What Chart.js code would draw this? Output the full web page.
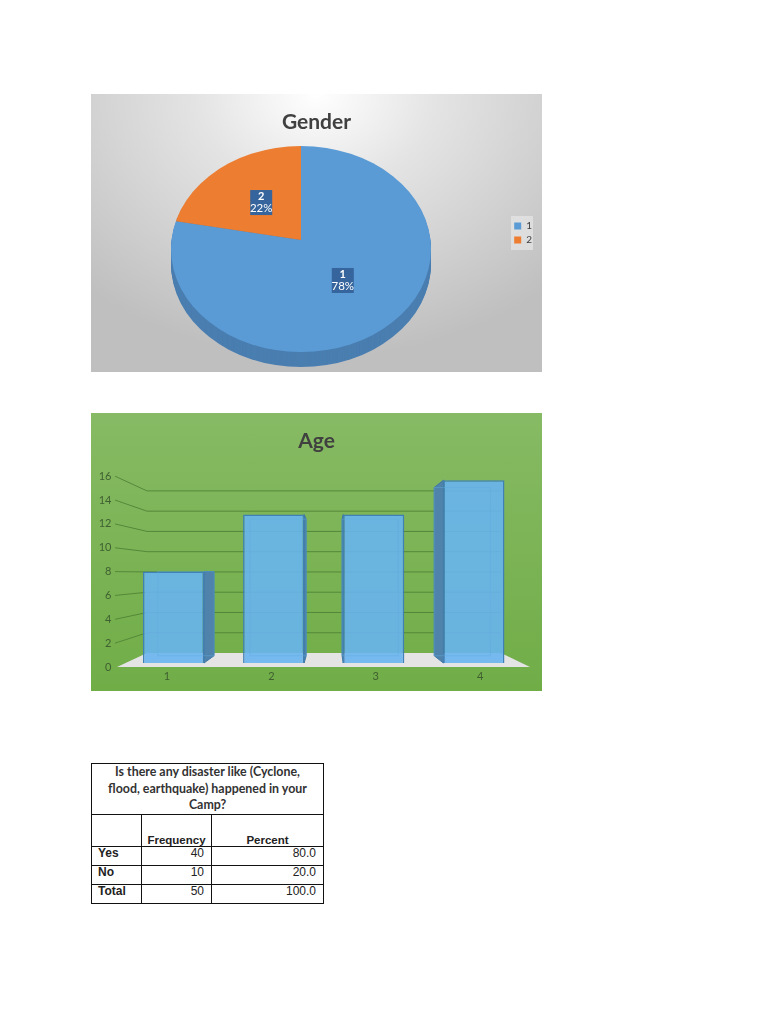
<!DOCTYPE html>
<html lang="en">
<head>
<meta charset="UTF-8">
<title>Gender, Age and Disaster</title>
<script src="https://cdn.jsdelivr.net/npm/chart.js@4"></script>
<style>
  * { margin: 0; padding: 0; box-sizing: border-box; }
  html, body { width: 768px; height: 1024px; background: #fff; overflow: hidden; }
  .panel { position: absolute; left: 91px; width: 451px; height: 278px; }
  .panel canvas { display: block; }
  #genderPanel { top: 94px; background: radial-gradient(ellipse 75% 95% at 50% 0%, #ffffff 0%, #e4e4e4 35%, #bfbfbf 100%); }
  #agePanel { top: 413px; background: linear-gradient(#87ba64, #70ad47); }
  #disaster { position: absolute; left: 91px; top: 763px; width: 232px; height: 140px; border-collapse: collapse; table-layout: fixed; font: 12px/12px "Liberation Sans", sans-serif; color: #222; }
  #disaster td, #disaster th { border: 1px solid #111; padding: 0 7px 0 6px; }
  #disaster .caption { font: bold 12.4px/16.5px Lato, sans-serif; text-align: center; color: #333; padding: 0 6px; height: 49px; }
  #disaster .head { vertical-align: bottom; text-align: center; font-size: 11.5px; font-weight: bold; height: 32px; padding: 0 3px; }
  #disaster .name { text-align: left; font-weight: bold; height: 19px; vertical-align: top; padding-top: 0; }
  #disaster .num { text-align: right; font-weight: normal; height: 19px; vertical-align: top; padding-top: 0; }
</style>
</head>
<body>
<div class="panel" id="genderPanel"><canvas id="genderChart" width="451" height="278"></canvas></div>
<div class="panel" id="agePanel"><canvas id="ageChart" width="451" height="278"></canvas></div>
<table id="disaster"></table>

<script>
const genderLabels = ['1', '2'];
const genderValues = [78, 22];
const genderColors = ['#5b9bd5', '#ed7d31'];

const ageLabels = ['1', '2', '3', '4'];
const ageValues = [8, 13, 13, 16];

const tableTitle = 'Is there any disaster like (Cyclone, flood, earthquake) happened in your Camp?';
const tableHeaders = ['', 'Frequency', 'Percent'];
const tableRows = ['Yes', 'No', 'Total'];
const tableFrequency = [40, 10, 50];
const tablePercent = ['80.0', '20.0', '100.0'];

const titleFont = { family: 'Lato', size: 21, weight: 'bold' };

// Fake tilted 3D pie: squash the library's arcs and clip them to the top face
const PIE = { tipX: 210, tipY: 146, cx: 210, cy: 155, rx: 130, ry: 103, depth: 15, squash: 0.79, labelR: 64 };

const tiltedPie = {
  id: 'tiltedPie',
  beforeDraw(chart) {
    // light box behind the legend entries only
    const ctx = chart.ctx;
    const boxes = chart.legend.legendHitBoxes;
    const top = boxes[0].top - 5;
    const bottom = boxes[boxes.length - 1].top + boxes[boxes.length - 1].height + 5;
    ctx.save();
    ctx.fillStyle = 'rgba(235,235,235,0.6)';
    ctx.fillRect(420, top, 22, bottom - top);
    ctx.restore();
  },
  beforeDatasetsDraw(chart) {
    const ctx = chart.ctx;
    ctx.save();
    ctx.fillStyle = '#4a7eb0';
    for (let d = PIE.depth; d > 0; d--) {
      ctx.beginPath();
      ctx.ellipse(PIE.cx, PIE.cy + d, PIE.rx, PIE.ry, 0, 0, Math.PI * 2);
      ctx.fill();
    }
    ctx.restore();

    const arc = chart.getDatasetMeta(0).data[0];
    const k = 220 / arc.outerRadius;
    ctx.save();
    ctx.beginPath();
    ctx.ellipse(PIE.cx, PIE.cy, PIE.rx, PIE.ry, 0, 0, Math.PI * 2);
    ctx.clip();
    ctx.translate(PIE.tipX, PIE.tipY);
    ctx.scale(k, k * PIE.squash);
    ctx.translate(-arc.x, -arc.y);
  },
  afterDatasetsDraw(chart) {
    const ctx = chart.ctx;
    ctx.restore();
    chart.getDatasetMeta(0).data.forEach((arc, i) => {
      const mid = (arc.startAngle + arc.endAngle) / 2;
      const x = PIE.tipX + Math.cos(mid) * PIE.labelR + 1;
      const y = PIE.tipY + Math.sin(mid) * PIE.labelR * PIE.squash + 1.5;
      ctx.save();
      ctx.fillStyle = '#35659c';
      ctx.fillRect(x - 11, y - 12.5, 22, 25);
      ctx.fillStyle = '#fff';
      ctx.textAlign = 'center';
      ctx.textBaseline = 'middle';
      ctx.font = 'bold 11px Lato';
      ctx.fillText(genderLabels[i], x, y - 6);
      ctx.font = '11.5px Lato';
      ctx.fillText(genderValues[i] + '%', x, y + 6);
      ctx.restore();
    });
  }
};

new Chart(document.getElementById('genderChart'), {
  type: 'pie',
  data: {
    labels: genderLabels,
    datasets: [{ data: genderValues, backgroundColor: genderColors, borderWidth: 0 }]
  },
  options: {
    responsive: false,
    animation: false,
    plugins: {
      tooltip: { enabled: false },
      title: { display: true, text: 'Gender', color: '#404040', font: titleFont, padding: { top: 16, bottom: 9 } },
      legend: { position: 'right', labels: { boxWidth: 7, boxHeight: 7, padding: 4, color: '#404040', font: { family: 'Lato', size: 10 } } }
    }
  },
  plugins: [tiltedPie]
});

// Fake perspective for the column chart: far points shrink towards one vanishing point
const VANISH = { x: 329 - 91, y: 572 - 413, k: 0.92 };
const farX = x => VANISH.x + (x - VANISH.x) * VANISH.k;
const farY = y => VANISH.y + (y - VANISH.y) * VANISH.k;

const ageBox = {
  id: 'ageBox',
  beforeDatasetsDraw(chart) {
    const ctx = chart.ctx;
    const { y, yBack } = chart.scales;
    const base = y.getPixelForValue(0);
    const back = yBack.getPixelForValue(0);
    ctx.save();
    // floor
    ctx.fillStyle = '#e4e4e4';
    ctx.beginPath();
    ctx.moveTo(26, base);
    ctx.lineTo(56, back);
    ctx.lineTo(410, back);
    ctx.lineTo(439, base);
    ctx.closePath();
    ctx.fill();
    // wall lines
    ctx.strokeStyle = '#55883a';
    ctx.lineWidth = 1;
    y.ticks.forEach(t => {
      if (t.value === 0) return;
      const by = yBack.getPixelForValue(t.value);
      ctx.beginPath();
      ctx.moveTo(24, y.getPixelForValue(t.value));
      ctx.lineTo(56, by);
      ctx.lineTo(410, by);
      ctx.stroke();
    });
    // far faces behind the translucent fronts
    chart.getDatasetMeta(0).data.forEach(bar => {
      const l = bar.x - bar.width / 2;
      const r = bar.x + bar.width / 2;
      const edge = r < VANISH.x ? r : l;
      ctx.fillStyle = '#4f83ab';
      ctx.strokeStyle = '#3f78a8';
      ctx.beginPath();
      ctx.moveTo(edge, bar.y);
      ctx.lineTo(farX(edge), farY(bar.y));
      ctx.lineTo(farX(edge), farY(bar.base));
      ctx.lineTo(edge, bar.base);
      ctx.closePath();
      ctx.fill();
      ctx.stroke();
    });
    ctx.restore();
  },
  afterDatasetsDraw(chart) {
    const ctx = chart.ctx;
    ctx.save();
    ctx.strokeStyle = 'rgba(95,170,225,0.45)';
    ctx.lineWidth = 1;
    chart.getDatasetMeta(0).data.forEach(bar => {
      const l = bar.x - bar.width / 2;
      const r = bar.x + bar.width / 2;
      ctx.strokeRect(farX(l), farY(bar.y), farX(r) - farX(l), farY(bar.base) - farY(bar.y));
    });
    ctx.restore();
  }
};

new Chart(document.getElementById('ageChart'), {
  type: 'bar',
  data: {
    labels: ageLabels,
    datasets: [{
      data: ageValues,
      xAxisID: 'x',
      yAxisID: 'yBar',
      backgroundColor: 'rgba(104,180,240,0.9)',
      borderColor: '#3f80b6',
      borderWidth: 1.5,
      barPercentage: 0.61,
      categoryPercentage: 1
    }]
  },
  options: {
    responsive: false,
    animation: false,
    plugins: {
      legend: { display: false },
      tooltip: { enabled: false },
      title: { display: true, text: 'Age', color: '#404040', font: titleFont, padding: { top: 16, bottom: 22 } }
    },
    scales: {
      // bars sit on the hidden category axis, the printed labels on their own wider one
      x: { type: 'category', display: false },
      xTick: {
        type: 'linear', position: 'bottom', min: 0.582, max: 4.42, offset: false,
        grid: { display: false, drawTicks: false }, border: { display: false },
        afterFit: s => { s.height = 24; },
        afterBuildTicks: s => { s.ticks = ageLabels.map(l => ({ value: Number(l) })); },
        ticks: { color: '#3f5f30', padding: 3, font: { family: 'Lato', size: 11 }, maxRotation: 0, callback: v => String(v) }
      },
      y: {
        min: 0, max: 16,
        grid: { display: false, drawTicks: false }, border: { display: false },
        afterFit: s => { s.width = 32.4; },
        ticks: { stepSize: 2, color: '#3f5f30', padding: 12, font: { family: 'Lato', size: 11 } }
      },
      yBar: { display: false, min: -0.35, max: 16.35 },
      // kept on the right with no labels, it holds the plot away from the panel edge
      yBack: {
        position: 'right', min: -1.38, max: 17.45,
        grid: { display: false, drawTicks: false }, border: { display: false },
        afterFit: s => { s.width = 18; },
        ticks: { display: false }
      }
    }
  },
  plugins: [ageBox]
});

// Table under the charts
const table = document.getElementById('disaster');
let html = `<colgroup><col style="width:50px"><col style="width:70px"><col style="width:112px"></colgroup>`;
html += `<tr><td colspan="3" class="caption">${tableTitle}</td></tr>`;
html += `<tr>${tableHeaders.map(h => `<th class="head">${h}</th>`).join('')}</tr>`;
tableRows.forEach((row, i) => {
  html += `<tr><td class="name">${row}</td><td class="num">${tableFrequency[i]}</td><td class="num">${tablePercent[i]}</td></tr>`;
});
table.innerHTML = html;
</script>
</body>
</html>
